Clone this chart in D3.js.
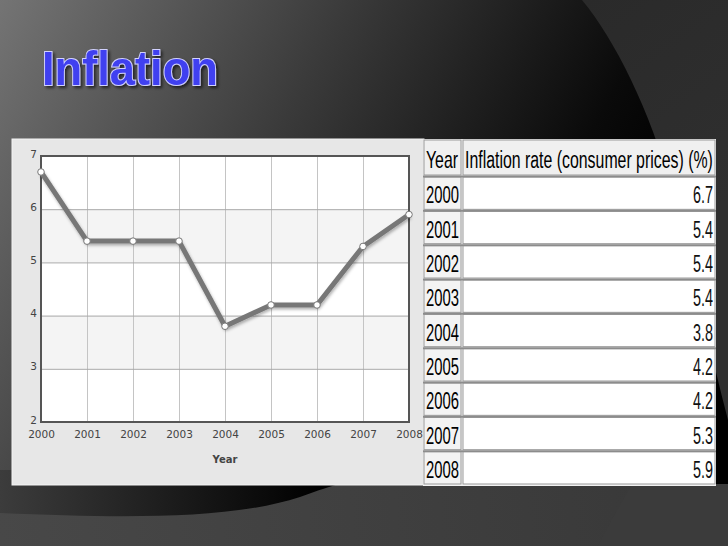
<!DOCTYPE html>
<html>
<head>
<meta charset="utf-8">
<script src="https://cdn.jsdelivr.net/npm/d3@7/dist/d3.min.js"></script>
<style>
html,body{margin:0;padding:0;background:#000;}
svg{display:block;}
</style>
</head>
<body>
<script>
const title = "Inflation";
const years = [2000, 2001, 2002, 2003, 2004, 2005, 2006, 2007, 2008];
const inflation = [6.7, 5.4, 5.4, 5.4, 3.8, 4.2, 4.2, 5.3, 5.9];
const yTicks = [2, 3, 4, 5, 6, 7];
const xAxisTitle = "Year";
const tableHeaders = ["Year", "Inflation rate (consumer prices) (%)"];

const W = 728, H = 546;
const svg = d3.select("body").append("svg").attr("width", W).attr("height", H);
const defs = svg.append("defs");

// Background gradients
const bg = defs.append("linearGradient").attr("id", "bg")
  .attr("gradientUnits", "userSpaceOnUse").attr("x1", 0).attr("y1", 0).attr("x2", 600).attr("y2", 330);
bg.append("stop").attr("offset", 0).attr("stop-color", "#747474");
bg.append("stop").attr("offset", 0.45).attr("stop-color", "#3a3a3a");
bg.append("stop").attr("offset", 0.85).attr("stop-color", "#0a0a0a");
bg.append("stop").attr("offset", 1).attr("stop-color", "#000");

const tr = defs.append("linearGradient").attr("id", "tr")
  .attr("gradientUnits", "userSpaceOnUse").attr("x1", 580).attr("y1", 0).attr("x2", 728).attr("y2", 200);
tr.append("stop").attr("offset", 0).attr("stop-color", "#2a2a2a");
tr.append("stop").attr("offset", 1).attr("stop-color", "#2f2f2f");

const bl = defs.append("linearGradient").attr("id", "bl")
  .attr("gradientUnits", "userSpaceOnUse").attr("x1", 0).attr("y1", 546).attr("x2", 700).attr("y2", 480);
bl.append("stop").attr("offset", 0).attr("stop-color", "#484848");
bl.append("stop").attr("offset", 1).attr("stop-color", "#383838");

const bd = defs.append("linearGradient").attr("id", "bd")
  .attr("gradientUnits", "userSpaceOnUse").attr("x1", 0).attr("y1", 0).attr("x2", 320).attr("y2", 0);
bd.append("stop").attr("offset", 0).attr("stop-color", "#3c3c3c");
bd.append("stop").attr("offset", 1).attr("stop-color", "#000");

svg.append("rect").attr("width", W).attr("height", H).attr("fill", "url(#bg)");
svg.append("rect").attr("x", 0).attr("y", 470).attr("width", W).attr("height", 76).attr("fill", "url(#bd)");
svg.append("path").attr("d", "M582,0 C615,40 650,110 672,190 C690,260 705,330 728,420 L728,0 Z").attr("fill", "url(#tr)");
svg.append("path").attr("d", "M0,513 C120,518 230,520 300,497 C320,490 330,486 340,484 L728,484 L728,546 L0,546 Z").attr("fill", "url(#bl)");
svg.append("path").attr("d", "M632,484 C620,505 608,525 598,546 L728,546 L728,484 Z").attr("fill", "#3b3b3b");

// Title
const tShadow = defs.append("filter").attr("id", "tsh").attr("x", "-10%").attr("y", "-20%").attr("width", "130%").attr("height", "150%");
tShadow.append("feDropShadow").attr("dx", 2).attr("dy", 2).attr("stdDeviation", 1.5).attr("flood-color", "#000").attr("flood-opacity", 0.6);
svg.append("text").attr("x", 42).attr("y", 85)
  .attr("font-family", "'Liberation Sans', Arial, sans-serif").attr("font-weight", "bold").attr("font-size", 48)
  .attr("textLength", 176).attr("lengthAdjust", "spacingAndGlyphs")
  .attr("fill", "#3f3ff0").attr("stroke", "#d2d2ff").attr("stroke-width", 2)
  .attr("paint-order", "stroke").attr("filter", "url(#tsh)")
  .text(title);

// Chart panel
svg.append("rect").attr("x", 12).attr("y", 139).attr("width", 412).attr("height", 346)
  .attr("fill", "#e7e7e7").attr("stroke", "#f4f4f4").attr("stroke-width", 1);

const x = d3.scaleLinear().domain([2000, 2008]).range([41, 409]);
const y = d3.scaleLinear().domain([2, 7]).range([422, 156]);

const g = svg.append("g");
g.append("rect").attr("x", x(2000)).attr("y", y(7)).attr("width", x(2008) - x(2000)).attr("height", y(2) - y(7)).attr("fill", "#ffffff");
g.selectAll("rect.band").data(yTicks.slice(0, -1).filter((d, i) => i % 2 === 1)).join("rect")
  .attr("class", "band").attr("x", x(2000)).attr("width", x(2008) - x(2000))
  .attr("y", d => y(d + 1)).attr("height", d => y(d) - y(d + 1)).attr("fill", "#f4f4f4");

g.append("g").call(d3.axisBottom(x).tickValues(years).tickSize(-(y(2) - y(7))).tickFormat(""))
  .attr("transform", `translate(0,${y(2)})`)
  .call(a => a.select(".domain").remove())
  .call(a => a.selectAll("line").attr("stroke", "#c4c4c4"));
g.append("g").call(d3.axisLeft(y).tickValues(yTicks).tickSize(-(x(2008) - x(2000))).tickFormat(""))
  .attr("transform", `translate(${x(2000)},0)`)
  .call(a => a.select(".domain").remove())
  .call(a => a.selectAll("line").attr("stroke", "#a8a8a8"));

g.append("rect").attr("x", x(2000)).attr("y", y(7)).attr("width", x(2008) - x(2000)).attr("height", y(2) - y(7))
  .attr("fill", "none").attr("stroke", "#555").attr("stroke-width", 2);

const xa = svg.append("g").attr("transform", `translate(0,${y(2) + 5})`)
  .call(d3.axisBottom(x).tickValues(years).tickSize(0).tickPadding(4).tickFormat(d3.format("d")));
xa.select(".domain").remove();
xa.selectAll("text").attr("font-family", "'DejaVu Sans', Verdana, sans-serif").attr("font-size", 10.5).attr("fill", "#444");

const ya = svg.append("g").attr("transform", `translate(${x(2000) - 3},0)`)
  .call(d3.axisLeft(y).tickValues(yTicks).tickSize(0).tickPadding(1).tickFormat(d3.format("d")));
ya.select(".domain").remove();
ya.selectAll("text").attr("font-family", "'DejaVu Sans', Verdana, sans-serif").attr("font-size", 10.5).attr("fill", "#444")
  .attr("dy", "0.1em");

svg.append("text").attr("x", x(2004)).attr("y", 463).attr("text-anchor", "middle")
  .attr("font-family", "'DejaVu Sans', Verdana, sans-serif").attr("font-weight", "bold").attr("font-size", 10).attr("fill", "#444")
  .text(xAxisTitle);

const lsh = defs.append("filter").attr("id", "lsh").attr("x", "-10%").attr("y", "-10%").attr("width", "120%").attr("height", "130%");
lsh.append("feDropShadow").attr("dx", 1).attr("dy", 2).attr("stdDeviation", 1.5).attr("flood-color", "#000").attr("flood-opacity", 0.3);
const pts = years.map((yr, i) => ({ yr, v: inflation[i] }));
svg.append("path").datum(pts)
  .attr("d", d3.line().x(d => x(d.yr)).y(d => y(d.v)))
  .attr("fill", "none").attr("stroke", "#777").attr("stroke-width", 5).attr("stroke-linejoin", "round")
  .attr("filter", "url(#lsh)");
svg.selectAll("circle.pt").data(pts).join("circle").attr("class", "pt")
  .attr("cx", d => x(d.yr)).attr("cy", d => y(d.v)).attr("r", 3.3)
  .attr("fill", "#fff").attr("stroke", "#777").attr("stroke-width", 1);

// Table
const tx0 = 423, tx1 = 462, tx2 = 716;
const rowTop = 139, headH = 37, rowH = (485 - 176) / years.length;
const tfont = "'Liberation Sans Narrow', 'Liberation Sans', Arial, sans-serif";
const tg = svg.append("g");

// helper: place text squeezed horizontally to a target width
function fitText(sel, x0, baseline, width, anchor) {
  sel.each(function() {
    const el = this;
    const w = el.getComputedTextLength();
    const s = width / w;
    const tx = anchor === "end" ? x0 - width : x0;
    d3.select(el).attr("x", 0).attr("y", 0)
      .attr("transform", `translate(${tx},${baseline}) scale(${s},1)`);
  });
}

tg.append("rect").attr("x", tx0).attr("y", rowTop).attr("width", tx2 - tx0).attr("height", 485 - rowTop + 1).attr("fill", "#f2f2f2");
tg.append("rect").attr("x", tx0 + 1).attr("y", rowTop + 1).attr("width", tx1 - tx0 - 2).attr("height", headH - 2)
  .attr("fill", "#f0f0f0").attr("stroke", "#9a9a9a");
tg.append("rect").attr("x", tx1 + 1).attr("y", rowTop + 1).attr("width", tx2 - tx1 - 2).attr("height", headH - 2)
  .attr("fill", "#f0f0f0").attr("stroke", "#9a9a9a");
tg.append("text").attr("font-family", tfont).attr("font-size", 23).attr("fill", "#000").text(tableHeaders[0])
  .call(s => fitText(s, tx0 + 3, rowTop + 29, tx1 - tx0 - 7));
tg.append("text").attr("font-family", tfont).attr("font-size", 23).attr("fill", "#000").text(tableHeaders[1])
  .call(s => fitText(s, tx1 + 3, rowTop + 29, tx2 - tx1 - 6));

const rows = tg.selectAll("g.row").data(pts).join("g").attr("class", "row")
  .attr("transform", (d, i) => `translate(0,${176 + i * rowH})`);
rows.append("rect").attr("x", tx0 + 1).attr("y", 1).attr("width", tx1 - tx0 - 2).attr("height", rowH - 2)
  .attr("fill", "#f3f3f3").attr("stroke", "#9a9a9a").attr("stroke-width", 1);
rows.append("rect").attr("x", tx1 + 1).attr("y", 1).attr("width", tx2 - tx1 - 2).attr("height", rowH - 2)
  .attr("fill", "#fff").attr("stroke", "#9a9a9a").attr("stroke-width", 1);
rows.append("line").attr("x1", tx0).attr("x2", tx2).attr("y1", 0.5).attr("y2", 0.5).attr("stroke", "#8c8c8c").attr("stroke-width", 2);
rows.append("text").attr("font-family", tfont).attr("font-size", 24).attr("fill", "#000").text(d => d.yr)
  .call(s => fitText(s, tx0 + 3, rowH - 7, 33));
rows.append("text").attr("font-family", tfont).attr("font-size", 24).attr("fill", "#111").text(d => d.v.toFixed(1))
  .call(s => fitText(s, tx2 - 3, rowH - 7, 20, "end"));
</script>
</body>
</html>
